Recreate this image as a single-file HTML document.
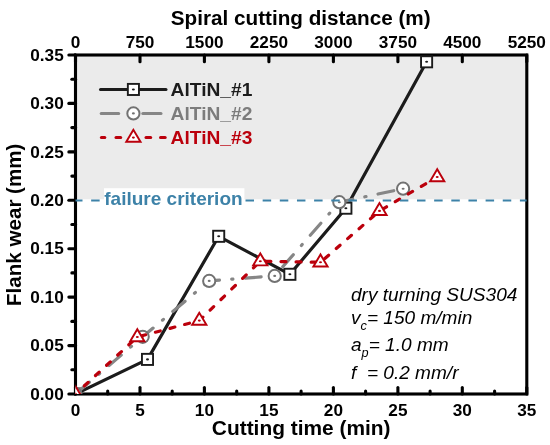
<!DOCTYPE html>
<html><head><meta charset="utf-8"><style>
html,body{margin:0;padding:0;background:#fff;width:550px;height:445px;overflow:hidden;position:relative}
text{white-space:pre}
</style></head><body>
<svg width="550" height="445" viewBox="0 0 550 445" style="position:absolute;left:0;top:0;will-change:transform">
<defs><clipPath id="pc"><rect x="75.5" y="55.0" width="451.29999999999995" height="339.0"/></clipPath></defs>
<rect x="75.5" y="55.0" width="451.29999999999995" height="144.3" fill="#ebebeb"/>
<rect x="75.5" y="55.0" width="451.29999999999995" height="339.0" fill="none" stroke="#000" stroke-width="3.1"/>
<line x1="75.5" y1="394.0" x2="75.5" y2="387.5" stroke="#000" stroke-width="3.1" stroke-linecap="round"/>
<line x1="107.7" y1="394.0" x2="107.7" y2="391.1" stroke="#000" stroke-width="3.1" stroke-linecap="round"/>
<line x1="140.0" y1="394.0" x2="140.0" y2="387.5" stroke="#000" stroke-width="3.1" stroke-linecap="round"/>
<line x1="172.2" y1="394.0" x2="172.2" y2="391.1" stroke="#000" stroke-width="3.1" stroke-linecap="round"/>
<line x1="204.4" y1="394.0" x2="204.4" y2="387.5" stroke="#000" stroke-width="3.1" stroke-linecap="round"/>
<line x1="236.7" y1="394.0" x2="236.7" y2="391.1" stroke="#000" stroke-width="3.1" stroke-linecap="round"/>
<line x1="268.9" y1="394.0" x2="268.9" y2="387.5" stroke="#000" stroke-width="3.1" stroke-linecap="round"/>
<line x1="301.1" y1="394.0" x2="301.1" y2="391.1" stroke="#000" stroke-width="3.1" stroke-linecap="round"/>
<line x1="333.4" y1="394.0" x2="333.4" y2="387.5" stroke="#000" stroke-width="3.1" stroke-linecap="round"/>
<line x1="365.6" y1="394.0" x2="365.6" y2="391.1" stroke="#000" stroke-width="3.1" stroke-linecap="round"/>
<line x1="397.9" y1="394.0" x2="397.9" y2="387.5" stroke="#000" stroke-width="3.1" stroke-linecap="round"/>
<line x1="430.1" y1="394.0" x2="430.1" y2="391.1" stroke="#000" stroke-width="3.1" stroke-linecap="round"/>
<line x1="462.3" y1="394.0" x2="462.3" y2="387.5" stroke="#000" stroke-width="3.1" stroke-linecap="round"/>
<line x1="494.6" y1="394.0" x2="494.6" y2="391.1" stroke="#000" stroke-width="3.1" stroke-linecap="round"/>
<line x1="526.8" y1="394.0" x2="526.8" y2="387.5" stroke="#000" stroke-width="3.1" stroke-linecap="round"/>
<line x1="75.5" y1="55.0" x2="75.5" y2="61.75" stroke="#000" stroke-width="3.1" stroke-linecap="round"/>
<line x1="140.0" y1="55.0" x2="140.0" y2="61.75" stroke="#000" stroke-width="3.1" stroke-linecap="round"/>
<line x1="204.4" y1="55.0" x2="204.4" y2="61.75" stroke="#000" stroke-width="3.1" stroke-linecap="round"/>
<line x1="268.9" y1="55.0" x2="268.9" y2="61.75" stroke="#000" stroke-width="3.1" stroke-linecap="round"/>
<line x1="333.4" y1="55.0" x2="333.4" y2="61.75" stroke="#000" stroke-width="3.1" stroke-linecap="round"/>
<line x1="397.9" y1="55.0" x2="397.9" y2="61.75" stroke="#000" stroke-width="3.1" stroke-linecap="round"/>
<line x1="462.3" y1="55.0" x2="462.3" y2="61.75" stroke="#000" stroke-width="3.1" stroke-linecap="round"/>
<line x1="526.8" y1="55.0" x2="526.8" y2="61.75" stroke="#000" stroke-width="3.1" stroke-linecap="round"/>
<line x1="75.5" y1="394.0" x2="68.85" y2="394.0" stroke="#000" stroke-width="3.1" stroke-linecap="round"/>
<line x1="75.5" y1="369.8" x2="71.85" y2="369.8" stroke="#000" stroke-width="3.1" stroke-linecap="round"/>
<line x1="75.5" y1="345.6" x2="68.85" y2="345.6" stroke="#000" stroke-width="3.1" stroke-linecap="round"/>
<line x1="75.5" y1="321.4" x2="71.85" y2="321.4" stroke="#000" stroke-width="3.1" stroke-linecap="round"/>
<line x1="75.5" y1="297.1" x2="68.85" y2="297.1" stroke="#000" stroke-width="3.1" stroke-linecap="round"/>
<line x1="75.5" y1="272.9" x2="71.85" y2="272.9" stroke="#000" stroke-width="3.1" stroke-linecap="round"/>
<line x1="75.5" y1="248.7" x2="68.85" y2="248.7" stroke="#000" stroke-width="3.1" stroke-linecap="round"/>
<line x1="75.5" y1="224.5" x2="71.85" y2="224.5" stroke="#000" stroke-width="3.1" stroke-linecap="round"/>
<line x1="75.5" y1="200.3" x2="68.85" y2="200.3" stroke="#000" stroke-width="3.1" stroke-linecap="round"/>
<line x1="75.5" y1="176.1" x2="71.85" y2="176.1" stroke="#000" stroke-width="3.1" stroke-linecap="round"/>
<line x1="75.5" y1="151.9" x2="68.85" y2="151.9" stroke="#000" stroke-width="3.1" stroke-linecap="round"/>
<line x1="75.5" y1="127.6" x2="71.85" y2="127.6" stroke="#000" stroke-width="3.1" stroke-linecap="round"/>
<line x1="75.5" y1="103.4" x2="68.85" y2="103.4" stroke="#000" stroke-width="3.1" stroke-linecap="round"/>
<line x1="75.5" y1="79.2" x2="71.85" y2="79.2" stroke="#000" stroke-width="3.1" stroke-linecap="round"/>
<line x1="75.5" y1="55.0" x2="68.85" y2="55.0" stroke="#000" stroke-width="3.1" stroke-linecap="round"/>
<g clip-path="url(#pc)">
<polyline points="75.5,394.0 147.5,359.4 218.7,236.3 289.9,274.3 345.9,208.2 426.6,61.8" fill="none" stroke="#1c1c1c" stroke-width="3.2" stroke-linejoin="round"/>
<rect x="69.95" y="388.45" width="11.1" height="11.1" fill="#fff" stroke="#1c1c1c" stroke-width="1.9"/><ellipse cx="75.5" cy="394.0" rx="1.5" ry="1.05" fill="#1c1c1c"/>
<rect x="141.95" y="353.85" width="11.1" height="11.1" fill="#fff" stroke="#1c1c1c" stroke-width="1.9"/><ellipse cx="147.5" cy="359.4" rx="1.5" ry="1.05" fill="#1c1c1c"/>
<rect x="213.15" y="230.75" width="11.1" height="11.1" fill="#fff" stroke="#1c1c1c" stroke-width="1.9"/><ellipse cx="218.7" cy="236.3" rx="1.5" ry="1.05" fill="#1c1c1c"/>
<rect x="284.35" y="268.75" width="11.1" height="11.1" fill="#fff" stroke="#1c1c1c" stroke-width="1.9"/><ellipse cx="289.9" cy="274.3" rx="1.5" ry="1.05" fill="#1c1c1c"/>
<rect x="340.35" y="202.65" width="11.1" height="11.1" fill="#fff" stroke="#1c1c1c" stroke-width="1.9"/><ellipse cx="345.9" cy="208.2" rx="1.5" ry="1.05" fill="#1c1c1c"/>
<rect x="421.05" y="56.25" width="11.1" height="11.1" fill="#fff" stroke="#1c1c1c" stroke-width="1.9"/><ellipse cx="426.6" cy="61.8" rx="1.5" ry="1.05" fill="#1c1c1c"/>
<polyline points="75.5,394.0 142.7,336.8 209.2,280.9 274.7,275.9 339.3,202.2 403.1,188.7" fill="none" stroke="#868686" stroke-width="3.2" stroke-dasharray="16,12.3,1.2,12.3" stroke-dashoffset="39.6" stroke-linecap="round"/>
<circle cx="75.5" cy="394.0" r="6.1" fill="#fff" stroke="#727272" stroke-width="2"/><ellipse cx="75.5" cy="394.0" rx="1.5" ry="1.05" fill="#727272"/>
<circle cx="142.7" cy="336.8" r="6.1" fill="#fff" stroke="#727272" stroke-width="2"/><ellipse cx="142.7" cy="336.8" rx="1.5" ry="1.05" fill="#727272"/>
<circle cx="209.2" cy="280.9" r="6.1" fill="#fff" stroke="#727272" stroke-width="2"/><ellipse cx="209.2" cy="280.9" rx="1.5" ry="1.05" fill="#727272"/>
<circle cx="274.7" cy="275.9" r="6.1" fill="#fff" stroke="#727272" stroke-width="2"/><ellipse cx="274.7" cy="275.9" rx="1.5" ry="1.05" fill="#727272"/>
<circle cx="339.3" cy="202.2" r="6.1" fill="#fff" stroke="#727272" stroke-width="2"/><ellipse cx="339.3" cy="202.2" rx="1.5" ry="1.05" fill="#727272"/>
<circle cx="403.1" cy="188.7" r="6.1" fill="#fff" stroke="#727272" stroke-width="2"/><ellipse cx="403.1" cy="188.7" rx="1.5" ry="1.05" fill="#727272"/>
<polyline points="75.5,394.0 137.3,337.0 199.3,320.6 260.3,261.2 320.5,262.3 379.5,210.9 437.2,177.0" fill="none" stroke="#bb000c" stroke-width="3.2" stroke-dasharray="5,10.12" stroke-dashoffset="3.02" stroke-linecap="round"/>
<polygon points="75.50,386.20 68.40,398.15 82.60,398.15" fill="#fff" stroke="#bb000c" stroke-width="1.95" stroke-linejoin="miter"/><ellipse cx="75.5" cy="394.0" rx="1.5" ry="1.05" fill="#bb000c"/>
<polygon points="137.30,329.20 130.20,341.15 144.40,341.15" fill="#fff" stroke="#bb000c" stroke-width="1.95" stroke-linejoin="miter"/><ellipse cx="137.3" cy="337.0" rx="1.5" ry="1.05" fill="#bb000c"/>
<polygon points="199.30,312.80 192.20,324.75 206.40,324.75" fill="#fff" stroke="#bb000c" stroke-width="1.95" stroke-linejoin="miter"/><ellipse cx="199.3" cy="320.6" rx="1.5" ry="1.05" fill="#bb000c"/>
<polygon points="260.30,253.40 253.20,265.35 267.40,265.35" fill="#fff" stroke="#bb000c" stroke-width="1.95" stroke-linejoin="miter"/><ellipse cx="260.3" cy="261.2" rx="1.5" ry="1.05" fill="#bb000c"/>
<polygon points="320.50,254.50 313.40,266.45 327.60,266.45" fill="#fff" stroke="#bb000c" stroke-width="1.95" stroke-linejoin="miter"/><ellipse cx="320.5" cy="262.3" rx="1.5" ry="1.05" fill="#bb000c"/>
<polygon points="379.50,203.10 372.40,215.05 386.60,215.05" fill="#fff" stroke="#bb000c" stroke-width="1.95" stroke-linejoin="miter"/><ellipse cx="379.5" cy="210.9" rx="1.5" ry="1.05" fill="#bb000c"/>
<polygon points="437.20,169.20 430.10,181.15 444.30,181.15" fill="#fff" stroke="#bb000c" stroke-width="1.95" stroke-linejoin="miter"/><ellipse cx="437.2" cy="177.0" rx="1.5" ry="1.05" fill="#bb000c"/>
</g>
<line x1="74" y1="200.5" x2="526.8" y2="200.5" stroke="#3d82a8" stroke-width="1.9" stroke-dasharray="8.5,8.65" clip-path="url(#pc)"/>
<rect x="104" y="188.2" width="140.4" height="20" fill="#fff"/>
<text x="104.3" y="205.4" font-family='"Liberation Sans", sans-serif' font-weight="bold" font-size="19" fill="#3d82a8">failure criterion</text>
<text x="75.5" y="415.5" font-family='"Liberation Sans", sans-serif' font-weight="bold" font-size="17.2" text-anchor="middle">0</text>
<text x="140.0" y="415.5" font-family='"Liberation Sans", sans-serif' font-weight="bold" font-size="17.2" text-anchor="middle">5</text>
<text x="204.4" y="415.5" font-family='"Liberation Sans", sans-serif' font-weight="bold" font-size="17.2" text-anchor="middle">10</text>
<text x="268.9" y="415.5" font-family='"Liberation Sans", sans-serif' font-weight="bold" font-size="17.2" text-anchor="middle">15</text>
<text x="333.4" y="415.5" font-family='"Liberation Sans", sans-serif' font-weight="bold" font-size="17.2" text-anchor="middle">20</text>
<text x="397.9" y="415.5" font-family='"Liberation Sans", sans-serif' font-weight="bold" font-size="17.2" text-anchor="middle">25</text>
<text x="462.3" y="415.5" font-family='"Liberation Sans", sans-serif' font-weight="bold" font-size="17.2" text-anchor="middle">30</text>
<text x="526.8" y="415.5" font-family='"Liberation Sans", sans-serif' font-weight="bold" font-size="17.2" text-anchor="middle">35</text>
<text x="75.5" y="47.8" font-family='"Liberation Sans", sans-serif' font-weight="bold" font-size="17.2" text-anchor="middle">0</text>
<text x="140.0" y="47.8" font-family='"Liberation Sans", sans-serif' font-weight="bold" font-size="17.2" text-anchor="middle">750</text>
<text x="204.4" y="47.8" font-family='"Liberation Sans", sans-serif' font-weight="bold" font-size="17.2" text-anchor="middle">1500</text>
<text x="268.9" y="47.8" font-family='"Liberation Sans", sans-serif' font-weight="bold" font-size="17.2" text-anchor="middle">2250</text>
<text x="333.4" y="47.8" font-family='"Liberation Sans", sans-serif' font-weight="bold" font-size="17.2" text-anchor="middle">3000</text>
<text x="397.9" y="47.8" font-family='"Liberation Sans", sans-serif' font-weight="bold" font-size="17.2" text-anchor="middle">3750</text>
<text x="462.3" y="47.8" font-family='"Liberation Sans", sans-serif' font-weight="bold" font-size="17.2" text-anchor="middle">4500</text>
<text x="526.8" y="47.8" font-family='"Liberation Sans", sans-serif' font-weight="bold" font-size="17.2" text-anchor="middle">5250</text>
<text x="63.7" y="399.7" font-family='"Liberation Sans", sans-serif' font-weight="bold" font-size="17.2" text-anchor="end">0.00</text>
<text x="63.7" y="351.3" font-family='"Liberation Sans", sans-serif' font-weight="bold" font-size="17.2" text-anchor="end">0.05</text>
<text x="63.7" y="302.8" font-family='"Liberation Sans", sans-serif' font-weight="bold" font-size="17.2" text-anchor="end">0.10</text>
<text x="63.7" y="254.4" font-family='"Liberation Sans", sans-serif' font-weight="bold" font-size="17.2" text-anchor="end">0.15</text>
<text x="63.7" y="206.0" font-family='"Liberation Sans", sans-serif' font-weight="bold" font-size="17.2" text-anchor="end">0.20</text>
<text x="63.7" y="157.6" font-family='"Liberation Sans", sans-serif' font-weight="bold" font-size="17.2" text-anchor="end">0.25</text>
<text x="63.7" y="109.1" font-family='"Liberation Sans", sans-serif' font-weight="bold" font-size="17.2" text-anchor="end">0.30</text>
<text x="63.7" y="60.7" font-family='"Liberation Sans", sans-serif' font-weight="bold" font-size="17.2" text-anchor="end">0.35</text>
<text x="300.7" y="24.8" font-family='"Liberation Sans", sans-serif' font-weight="bold" font-size="20.7" text-anchor="middle">Spiral cutting distance (m)</text>
<text x="301.2" y="434.7" font-family='"Liberation Sans", sans-serif' font-weight="bold" font-size="20.9" text-anchor="middle">Cutting time (min)</text>
<text x="0" y="0" font-family='"Liberation Sans", sans-serif' font-weight="bold" font-size="20.6" text-anchor="middle" transform="translate(21.4,224.8) rotate(-90)">Flank wear (mm)</text>
<line x1="100.5" y1="89.45" x2="166" y2="89.45" stroke="#1c1c1c" stroke-width="3" stroke-linecap="round"/>
<rect x="127.85" y="83.90" width="11.1" height="11.1" fill="#fff" stroke="#1c1c1c" stroke-width="1.9"/><ellipse cx="133.4" cy="89.5" rx="1.5" ry="1.05" fill="#1c1c1c"/>
<line x1="101.2" y1="113.4" x2="118.7" y2="113.4" stroke="#868686" stroke-width="3" stroke-linecap="round"/>
<line x1="142.8" y1="113.4" x2="161" y2="113.4" stroke="#868686" stroke-width="3" stroke-linecap="round"/>
<circle cx="133.4" cy="113.4" r="6.1" fill="#fff" stroke="#727272" stroke-width="2"/><ellipse cx="133.4" cy="113.4" rx="1.5" ry="1.05" fill="#727272"/>
<line x1="101.4" y1="137.6" x2="104.8" y2="137.6" stroke="#bb000c" stroke-width="3" stroke-linecap="round"/>
<line x1="116" y1="137.6" x2="120.7" y2="137.6" stroke="#bb000c" stroke-width="3" stroke-linecap="round"/>
<line x1="146" y1="137.6" x2="150.7" y2="137.6" stroke="#bb000c" stroke-width="3" stroke-linecap="round"/>
<line x1="160.5" y1="137.6" x2="165.2" y2="137.6" stroke="#bb000c" stroke-width="3" stroke-linecap="round"/>
<polygon points="133.40,129.80 126.30,141.75 140.50,141.75" fill="#fff" stroke="#bb000c" stroke-width="1.95" stroke-linejoin="miter"/><ellipse cx="133.4" cy="137.6" rx="1.5" ry="1.05" fill="#bb000c"/>
<text x="170.6" y="95.65" font-family='"Liberation Sans", sans-serif' font-weight="bold" font-size="19.2" fill="#1c1c1c">AlTiN_#1</text>
<text x="170.6" y="119.60" font-family='"Liberation Sans", sans-serif' font-weight="bold" font-size="19.2" fill="#7c7c7c">AlTiN_#2</text>
<text x="170.6" y="143.80" font-family='"Liberation Sans", sans-serif' font-weight="bold" font-size="19.2" fill="#bb000c">AlTiN_#3</text>
<text transform="translate(351,300.6) scale(1.06,1)" x="0" y="0" font-family='"Liberation Sans", sans-serif' font-style="italic" font-size="18">dry turning SUS304</text>
<text transform="translate(351,323.9) scale(1.06,1)" x="0" y="0" font-family='"Liberation Sans", sans-serif' font-style="italic" font-size="18">v<tspan font-size="12" dy="5.8">c</tspan><tspan dy="-5.8">= 150 m/min</tspan></text>
<text transform="translate(351,351.4) scale(1.06,1)" x="0" y="0" font-family='"Liberation Sans", sans-serif' font-style="italic" font-size="18">a<tspan font-size="12" dy="5.8">p</tspan><tspan dy="-5.8">= 1.0 mm</tspan></text>
<text transform="translate(351,379.1) scale(1.06,1)" x="0" y="0" font-family='"Liberation Sans", sans-serif' font-style="italic" font-size="18">f  = 0.2 mm/r</text>
</svg>
</body></html>
